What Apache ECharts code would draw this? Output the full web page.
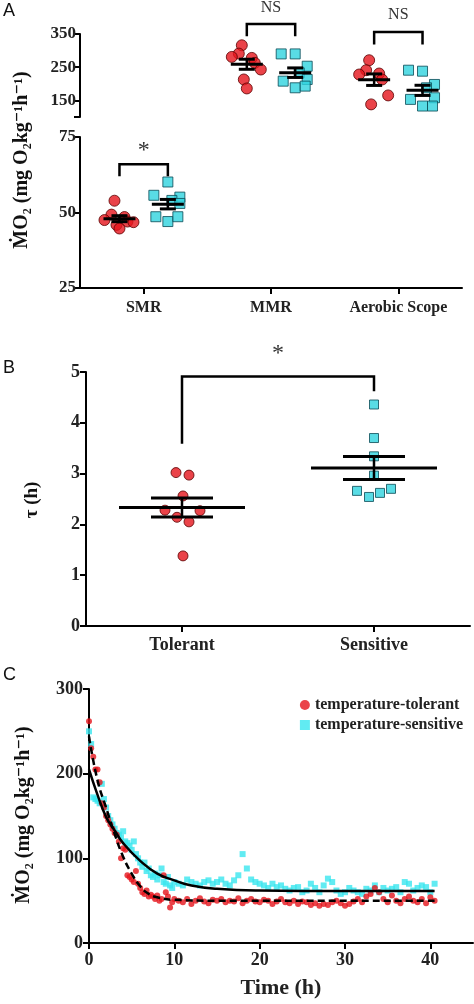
<!DOCTYPE html>
<html><head><meta charset="utf-8">
<script src="https://cdn.jsdelivr.net/npm/echarts@6/dist/echarts.min.js"></script>
<style>html,body{margin:0;padding:0;background:#fff}#c{width:474px;height:1004px}</style>
</head><body><div id="c"></div>
<script>
// ---------- DATA ----------
const catsA = ['SMR', 'MMR', 'Aerobic Scope'];
const smrTol = [53.9, 49.3, 48.5, 47.5, 47.0, 46.8, 45.9, 44.7];
const smrSen = [60.1, 55.7, 55.1, 54.0, 53.0, 48.6, 47.0, 48.6];
const mmrTol = [316, 291, 278, 281, 263, 243, 213, 186];
const mmrSen = [290, 290, 253, 233, 213, 208, 188, 193];
const asTol = [271, 241, 231, 228, 213, 165, 138];
const asSen = [238, 241, 198, 188, 158, 153, 133, 133];
const jitTolA = [-5, -8, 5, -15, 8, 14, -3, 0];
const jitSenA = [0, -14, 12, 4, 12, -12, 0, 10];
const catsB = ['Tolerant', 'Sensitive'];
const tauTol = [3.02, 2.97, 2.56, 2.28, 2.27, 2.14, 2.05, 1.38];
const tauSen = [4.36, 3.70, 3.34, 2.96, 2.66, 2.54, 2.62, 2.70];
const jitTolB = [-6, 7, 1, -17, 18, -5, 7, 1];
const jitSenB = [0, 0, 0, 0, -17, -5, 6, 17];
const ticksAUpper = [150, 250, 350];
const ticksALower = [25, 50, 75];
// Panel C: time series (first 10 h every 0.25 h, then every 0.5 h)
const tolEarly = [262,230,220,205,205,190,165,160,150,145,140,135,130,128,120,100,112,110,80,78,75,72,85,70,65,60,58,62,55,57,55,52,56,50,52,80,60,55,42,48,52];
const tolLate = [50,48,52,46,50,53,49,47,51,50,52,48,50,49,53,47,50,52,49,48,51,50,46,49,52,48,47,50,46,49,48,45,47,44,46,45,48,50,47,44,46,49,52,48,55,58,65,60,52,48,56,50,47,52,55,50,48,52,47,54,50];
const senEarly = [250,235,172,170,168,165,188,170,160,150,145,140,135,130,128,125,132,120,118,115,110,120,105,100,95,90,95,85,88,80,78,82,75,80,88,72,70,78,68,65,72];
const senLate = [70,68,75,72,70,68,72,74,70,72,75,70,68,74,80,105,88,75,72,70,68,65,70,66,68,64,62,65,66,60,62,70,65,60,68,76,72,62,58,60,65,62,60,58,64,62,68,60,65,62,64,66,60,72,70,62,65,68,66,60,70];
const fitSen = [[0,205],[1,175],[2,149],[3,133],[4,118],[6,97],[8,82],[10,74],[12,68],[15,64],[20,62],[30,61.5],[40.5,61.5]];
const fitTol = [[0,244],[1,192],[2,160],[3,129],[4,102],[5,82],[6,67],[7,58],[8,54],[10,51],[15,50],[40.5,50]];

// ---------- helpers ----------
const RED = '#e5141c', CYAN = '#2fd3df', CYAN2 = '#3ae6ef';
const serif = '"Liberation Serif","DejaVu Serif",serif';
const mean = a => a.reduce((s, v) => s + v, 0) / a.length;
const sem = a => { const m = mean(a); return Math.sqrt(a.reduce((s, v) => s + (v - m) ** 2, 0) / (a.length - 1)) / Math.sqrt(a.length); };
const pxA = 127.3, pxB = 192;
function pts(vals, cx, jit, px) { return vals.map((v, i) => [cx + jit[i % jit.length] / px, v]); }
function timeSeries(early, late) {
  const out = [];
  early.forEach((v, i) => out.push([i * 0.25, v]));
  late.forEach((v, i) => out.push([10.5 + i * 0.5, v]));
  return out;
}
function ln(x1, y1, x2, y2, w) { return { type: 'line', shape: { x1, y1, x2, y2 }, style: { stroke: '#000', lineWidth: w || 2.5 } }; }
function errSeries(xi, yi, items, wm, ws) {
  return { type: 'custom', xAxisIndex: xi, yAxisIndex: yi, z: 5, clip: false,
    data: items.map(it => [it[0], mean(it[1]), sem(it[1])]),
    renderItem: (p, api) => {
      const x = api.value(0), m = api.value(1), s = api.value(2);
      const c = api.coord([x, m]), hi = api.coord([x, m + s]), lo = api.coord([x, m - s]);
      return { type: 'group', children: [ln(c[0] - wm, c[1], c[0] + wm, c[1], 3), ln(hi[0] - ws, hi[1], hi[0] + ws, hi[1], 3), ln(lo[0] - ws, lo[1], lo[0] + ws, lo[1], 3), ln(c[0], hi[1], c[0], lo[1], 2.5)] };
    } };
}
function bracketSeries(xi, yi, items) {
  return { type: 'custom', xAxisIndex: xi, yAxisIndex: yi, z: 5, clip: false,
    data: items.map(b => [b.x1, b.x2, b.top, b.l, b.r, b.ty]),
    renderItem: (p, api) => {
      const b = items[p.dataIndex];
      const a = api.coord([b.x1, b.top]), c = api.coord([b.x2, b.top]);
      const l = api.coord([b.x1, b.l]), r = api.coord([b.x2, b.r]), t = api.coord([(b.x1 + b.x2) / 2, b.ty]);
      return { type: 'group', children: [
        { type: 'polyline', shape: { points: [[l[0], l[1]], [a[0], a[1]], [c[0], c[1]], [r[0], r[1]]] }, style: { stroke: '#000', lineWidth: 2.5, fill: null } },
        { type: 'text', x: t[0], y: t[1], style: { text: b.text, font: b.text === '*' ? '24px ' + serif : '16px ' + serif, fill: '#333', align: 'center', verticalAlign: 'middle' } }
      ] };
    } };
}
const lbl = { fontFamily: serif, fontWeight: 'bold', fontSize: 17, color: '#222' };
const axLine = { show: true, lineStyle: { color: '#000', width: 2 } };
const tick = { show: true, length: 6, lineStyle: { color: '#000', width: 2 } };
const dotA = { color: RED, borderColor: '#5a0000', borderWidth: 1 };
const sqA = { color: CYAN, borderColor: '#0a4a55', borderWidth: 1 };

const option = {
  animation: false,
  grid: [
    { left: 80, right: 12, top: 34, height: 83 },
    { left: 80, right: 12, top: 137, height: 151 },
    { left: 86, right: 4, top: 372, height: 254 },
    { left: 89, right: 1, top: 689, height: 254 }
  ],
  xAxis: [
    { type: 'value', gridIndex: 0, min: 0, max: 3, show: false },
    { type: 'value', gridIndex: 1, min: 0, max: 3, splitLine: { show: false }, axisLine: axLine,
      axisTick: { ...tick, customValues: [0.5, 1.5, 2.5] },
      axisLabel: { ...lbl, fontSize: 16, margin: 12, customValues: [0.5, 1.5, 2.5], formatter: v => catsA[Math.round(v - 0.5)] } },
    { type: 'value', gridIndex: 2, min: 0, max: 2, splitLine: { show: false }, axisLine: axLine,
      axisTick: { ...tick, customValues: [0.5, 1.5] },
      axisLabel: { ...lbl, fontSize: 18, margin: 10, customValues: [0.5, 1.5], formatter: v => catsB[Math.round(v - 0.5)] } },
    { type: 'value', gridIndex: 3, min: 0, max: 45, interval: 10, splitLine: { show: false }, axisLine: axLine,
      axisTick: { ...tick, customValues: [0, 10, 20, 30, 40] },
      axisLabel: { ...lbl, fontSize: 18, customValues: [0, 10, 20, 30, 40] },
      name: 'Time (h)', nameLocation: 'middle', nameGap: 34, nameTextStyle: { ...lbl, fontSize: 22 } }
  ],
  yAxis: [
    { type: 'value', gridIndex: 0, min: 100, max: 350, splitLine: { show: false }, axisLine: axLine,
      axisTick: { ...tick, customValues: [100].concat(ticksAUpper) }, axisLabel: { ...lbl, margin: 4, customValues: ticksAUpper } },
    { type: 'value', gridIndex: 1, min: 25, max: 75, splitLine: { show: false }, axisLine: axLine,
      axisTick: { ...tick, customValues: ticksALower }, axisLabel: { ...lbl, margin: 4, customValues: ticksALower } },
    { type: 'value', gridIndex: 2, min: 0, max: 5, interval: 1, splitLine: { show: false }, axisLine: axLine,
      axisTick: tick, axisLabel: { ...lbl, fontSize: 18, margin: 6 } },
    { type: 'value', gridIndex: 3, min: 0, max: 300, interval: 100, splitLine: { show: false }, axisLine: axLine,
      axisTick: tick, axisLabel: { ...lbl, fontSize: 18, margin: 6 } }
  ],
  legend: { show: true, right: 6, top: 692, orient: 'vertical', itemGap: 4, itemWidth: 10, itemHeight: 10,
    data: [{ name: 'temperature-tolerant', icon: 'circle' }, { name: 'temperature-sensitive', icon: 'rect' }],
    textStyle: { ...lbl, fontSize: 16, color: '#222' } },
  graphic: [
    { type: 'text', left: 3, top: 2, style: { text: 'A', font: '18px "Liberation Sans",sans-serif', fill: '#111' } },
    { type: 'text', left: 3, top: 359, style: { text: 'B', font: '18px "Liberation Sans",sans-serif', fill: '#111' } },
    { type: 'text', left: 3, top: 666, style: { text: 'C', font: '18px "Liberation Sans",sans-serif', fill: '#111' } },
    { type: 'text', x: 22, y: 160, rotation: Math.PI / 2, style: { text: 'ṀO₂ (mg O₂kg⁻¹h⁻¹)', font: 'bold 20px ' + serif, fill: '#111', align: 'center', verticalAlign: 'middle' } },
    { type: 'text', x: 32, y: 500, rotation: Math.PI / 2, style: { text: 'τ (h)', font: 'bold 19px ' + serif, fill: '#111', align: 'center', verticalAlign: 'middle' } },
    { type: 'text', x: 24, y: 815, rotation: Math.PI / 2, style: { text: 'ṀO₂ (mg O₂kg⁻¹h⁻¹)', font: 'bold 20px ' + serif, fill: '#111', align: 'center', verticalAlign: 'middle' } }
  ],
  series: [
    // Panel A
    { type: 'scatter', xAxisIndex: 1, yAxisIndex: 1, symbol: 'circle', symbolSize: 11, itemStyle: dotA, data: pts(smrTol, 0.5 - 0.19, jitTolA, pxA) },
    { type: 'scatter', xAxisIndex: 1, yAxisIndex: 1, symbol: 'rect', symbolSize: 10, itemStyle: sqA, data: pts(smrSen, 0.5 + 0.19, jitSenA, pxA) },
    { type: 'scatter', xAxisIndex: 0, yAxisIndex: 0, symbol: 'circle', symbolSize: 11, itemStyle: dotA, data: pts(mmrTol, 1.5 - 0.19, jitTolA, pxA).concat(pts(asTol, 2.5 - 0.19, jitTolA, pxA)) },
    { type: 'scatter', xAxisIndex: 0, yAxisIndex: 0, symbol: 'rect', symbolSize: 10, itemStyle: sqA, data: pts(mmrSen, 1.5 + 0.19, jitSenA, pxA).concat(pts(asSen, 2.5 + 0.19, jitSenA, pxA)) },
    errSeries(1, 1, [[0.5 - 0.19, smrTol], [0.5 + 0.19, smrSen]], 16, 8),
    errSeries(0, 0, [[1.5 - 0.19, mmrTol], [1.5 + 0.19, mmrSen], [2.5 - 0.19, asTol], [2.5 + 0.19, asSen]], 16, 8),
    bracketSeries(1, 1, [{ x1: 0.5 - 0.19, x2: 0.5 + 0.19, top: 66, l: 62, r: 62, ty: 70.5, text: '*' }]),
    bracketSeries(0, 0, [{ x1: 1.5 - 0.19, x2: 1.5 + 0.19, top: 380, l: 343, r: 343, ty: 428, text: 'NS' },
                         { x1: 2.5 - 0.19, x2: 2.5 + 0.19, top: 356, l: 318, r: 318, ty: 408, text: 'NS' }]),
    // Panel B
    { type: 'scatter', xAxisIndex: 2, yAxisIndex: 2, symbol: 'circle', symbolSize: 10, itemStyle: dotA, data: pts(tauTol, 0.5, jitTolB, pxB) },
    { type: 'scatter', xAxisIndex: 2, yAxisIndex: 2, symbol: 'rect', symbolSize: 9, itemStyle: sqA, data: pts(tauSen, 1.5, jitSenB, pxB) },
    errSeries(2, 2, [[0.5, tauTol], [1.5, tauSen]], 63, 31),
    bracketSeries(2, 2, [{ x1: 0.5, x2: 1.5, top: 4.91, l: 3.59, r: 4.62, ty: 5.36, text: '*' }]),
    // Panel C
    { name: 'temperature-sensitive', type: 'scatter', xAxisIndex: 3, yAxisIndex: 3, symbol: 'rect', symbolSize: 6, itemStyle: { color: CYAN2 }, data: timeSeries(senEarly, senLate) },
    { name: 'temperature-tolerant', type: 'scatter', xAxisIndex: 3, yAxisIndex: 3, symbol: 'circle', symbolSize: 6, itemStyle: { color: RED }, data: timeSeries(tolEarly, tolLate) },
    { type: 'line', xAxisIndex: 3, yAxisIndex: 3, smooth: true, symbol: 'none', lineStyle: { color: '#000', width: 2.5 }, data: fitSen, z: 4 },
    { type: 'line', xAxisIndex: 3, yAxisIndex: 3, smooth: true, symbol: 'none', lineStyle: { color: '#000', width: 2.5, type: [7, 4] }, data: fitTol, z: 4 }
  ]
};
const chart = echarts.init(document.getElementById('c'), null, { renderer: 'canvas' });
chart.setOption(option);
</script></body></html>
